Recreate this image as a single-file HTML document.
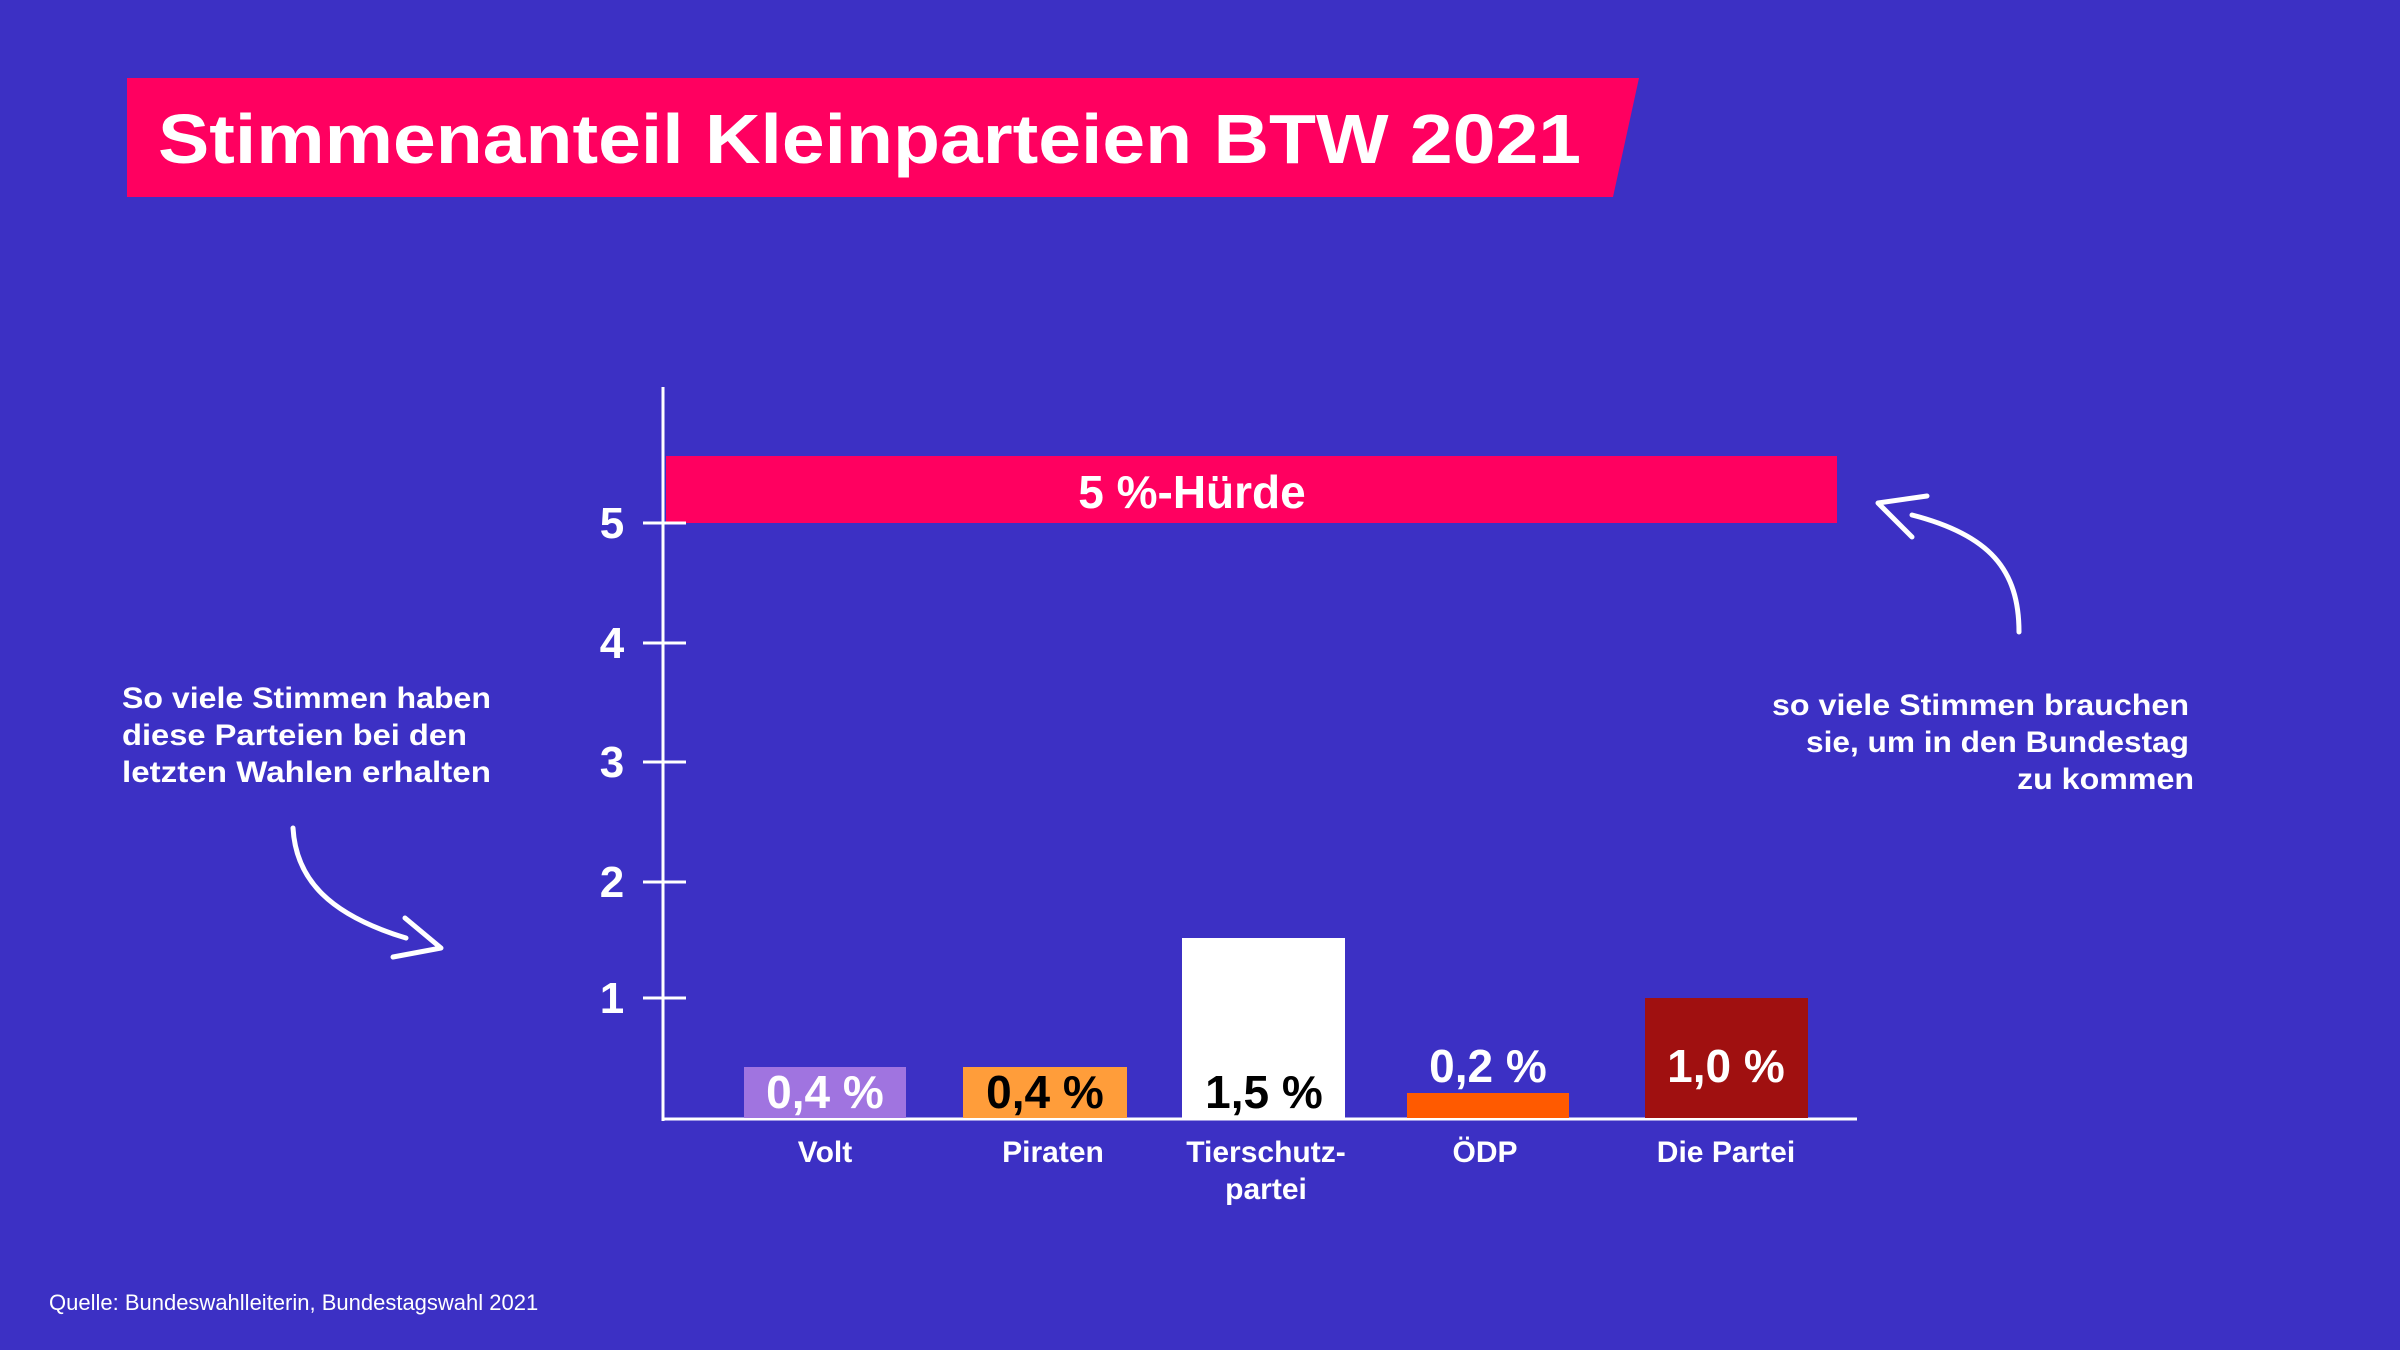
<!DOCTYPE html>
<html><head><meta charset="utf-8"><style>
html,body{margin:0;padding:0;background:#3c30c4;}
svg{display:block;}
text{font-family:"Liberation Sans",sans-serif;fill:#fff;}
</style></head><body>
<svg width="2400" height="1350" viewBox="0 0 2400 1350" xmlns="http://www.w3.org/2000/svg">
<rect width="2400" height="1350" fill="#3c30c4"/>
<polygon points="127,78 1639,78 1613,197 127,197" fill="#ff0060"/>
<text x="158" y="163" font-size="70" font-weight="bold" textLength="1423" lengthAdjust="spacingAndGlyphs">Stimmenanteil Kleinparteien BTW 2021</text>

<rect x="666" y="456" width="1171" height="67" fill="#ff0060"/>
<text x="1192" y="508" font-size="46" font-weight="bold" text-anchor="middle">5 %-Hürde</text>

<g stroke="#fff" stroke-width="3">
<line x1="663" y1="387" x2="663" y2="1121"/>
<line x1="662" y1="1119" x2="1857" y2="1119"/>
<line x1="643" y1="523" x2="686" y2="523"/>
<line x1="643" y1="643" x2="686" y2="643"/>
<line x1="643" y1="762" x2="686" y2="762"/>
<line x1="643" y1="882" x2="686" y2="882"/>
<line x1="643" y1="998" x2="686" y2="998"/>
</g>
<g font-size="44" font-weight="bold" text-anchor="middle">
<text x="612" y="538">5</text>
<text x="612" y="658">4</text>
<text x="612" y="777">3</text>
<text x="612" y="897">2</text>
<text x="612" y="1013">1</text>
</g>

<rect x="744" y="1067" width="162" height="51" fill="#a074e0"/>
<rect x="963" y="1067" width="164" height="51" fill="#ff9d3a"/>
<rect x="1182" y="938" width="163" height="180" fill="#ffffff"/>
<rect x="1407" y="1093" width="162" height="25" fill="#ff5a00"/>
<rect x="1645" y="998" width="163" height="120" fill="#a01010"/>

<g font-size="46" font-weight="bold" text-anchor="middle">
<text x="825" y="1108">0,4 %</text>
<text x="1045" y="1108" style="fill:#000">0,4 %</text>
<text x="1264" y="1108" style="fill:#000">1,5 %</text>
<text x="1488" y="1082">0,2 %</text>
<text x="1726" y="1082">1,0 %</text>
</g>
<g font-size="30" font-weight="bold" text-anchor="middle">
<text x="825" y="1162">Volt</text>
<text x="1053" y="1162">Piraten</text>
<text x="1266" y="1162">Tierschutz-</text>
<text x="1266" y="1199">partei</text>
<text x="1485" y="1162">ÖDP</text>
<text x="1726" y="1162">Die Partei</text>
</g>

<g font-size="30" font-weight="bold">
<text x="122" y="708" textLength="369" lengthAdjust="spacingAndGlyphs">So viele Stimmen haben</text>
<text x="122" y="745" textLength="345" lengthAdjust="spacingAndGlyphs">diese Parteien bei den</text>
<text x="122" y="782" textLength="369" lengthAdjust="spacingAndGlyphs">letzten Wahlen erhalten</text>
</g>
<g font-size="30" font-weight="bold">
<text x="1772" y="715" textLength="417" lengthAdjust="spacingAndGlyphs">so viele Stimmen brauchen</text>
<text x="1806" y="752" textLength="383" lengthAdjust="spacingAndGlyphs">sie, um in den Bundestag</text>
<text x="2017" y="789" textLength="177" lengthAdjust="spacingAndGlyphs">zu kommen</text>
</g>

<g fill="none" stroke="#fff" stroke-width="5" stroke-linecap="round" stroke-linejoin="round">
<path d="M293,828 C296,880 330,915 406,938"/>
<path d="M405,918 L441,948 L393,957"/>
<path d="M2019,632 C2019,570 1990,535 1912,515"/>
<path d="M1912,537 L1878,503 L1927,496"/>
</g>

<text x="49" y="1310" font-size="22">Quelle: Bundeswahlleiterin, Bundestagswahl 2021</text>
</svg>
</body></html>
